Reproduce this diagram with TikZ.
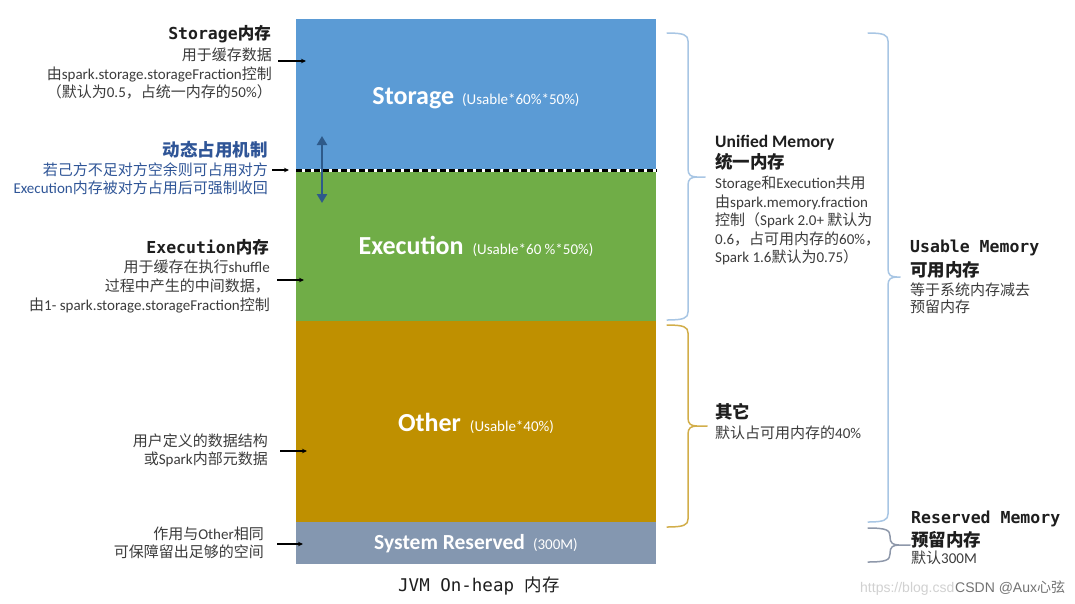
\documentclass[tikz,border=0pt]{standalone}
\usepackage{fontspec}
\setmainfont{Carlito}
\newfontfamily\cjk{Noto Sans CJK SC}
\newfontfamily\mono{DejaVu Sans Mono}
\newfontfamily\wmfont{Liberation Sans}
\usetikzlibrary{arrows.meta}
\newcommand\zh[1]{{\cjk #1}}
\definecolor{cStor}{HTML}{5B9BD5}
\definecolor{cExec}{HTML}{70AD47}
\definecolor{cOther}{HTML}{BF9000}
\definecolor{cSys}{HTML}{8497B0}
\definecolor{titlec}{HTML}{1E1E1E}
\definecolor{desc}{HTML}{3C3C3C}
\definecolor{blueT}{HTML}{2F5597}
\definecolor{dblue}{HTML}{2E5A8A}
\definecolor{braceBlue}{HTML}{A8C6E4}
\definecolor{braceGold}{HTML}{D2AE4A}
\definecolor{braceGray}{HTML}{8E98AA}
% color, x0, x1, xtip, ytop, ymid, ybot
\newcommand\membrace[7]{%
  \draw[#1, line width=1.5pt, line cap=round, line join=round]
    (#2,#5) .. controls (#3-4,#5) and (#3,#5+2) .. (#3,#5+8)
    -- (#3,#6-8) .. controls (#3,#6-2) and (#3+3,#6) .. (#3+9,#6)
    -- (#4,#6) -- (#3+9,#6)
    .. controls (#3+3,#6) and (#3,#6+2) .. (#3,#6+8)
    -- (#3,#7-8) .. controls (#3,#7-2) and (#3-4,#7) .. (#2,#7);}
\tikzset{
  region/.style={draw=none, minimum width=360pt, inner sep=0pt, anchor=north west},
  blab/.style={anchor=base, inner sep=0pt, text=white},
  lt/.style={inner sep=0pt, anchor=base east},
  rt/.style={inner sep=0pt, anchor=base west},
  dsc/.style={text=desc, font=\fontsize{15}{18}\selectfont},
  ttl/.style={text=titlec, font=\fontsize{16.5}{18}\selectfont\bfseries},
  ttlzh/.style={text=titlec, font=\fontsize{17.5}{18}\selectfont\bfseries},
  ptr/.style={black, line width=1.2pt, -{Stealth[length=5pt,width=4.5pt]}},
  dblarr/.style={dblue, line width=2.4pt, {Triangle[length=9pt,width=10pt]}-{Triangle[length=9pt,width=10pt]}},
}
\begin{document}
\begin{tikzpicture}[x=1pt,y=-1pt]
\useasboundingbox (0,0) rectangle (1075,603);
\fill[white] (0,0) rectangle (1075,603);

% memory regions
\node[region, fill=cStor, minimum height=151pt] (storage) at (296,19) {};
\node[region, fill=cExec, minimum height=151pt] (execution) at (296,170) {};
\node[region, fill=cOther, minimum height=201pt] (other) at (296,321) {};
\node[region, fill=cSys, minimum height=42pt] (sysres) at (296,522) {};

% dashed boundary
\draw[white, line width=2.2pt] (storage.south west) -- (storage.south east);
\draw[black, line width=2.2pt, dash pattern=on 6pt off 3pt] (storage.south west) -- (storage.south east);

% region labels
\node[blab] (stL) at (476,104.5) {{\bfseries\fontsize{26}{26}\selectfont Storage}\hspace{8pt}{\fontsize{15}{15}\selectfont(Usable*60\%*50\%)}};
\node[blab] (exL) at (476,254) {{\bfseries\fontsize{26}{26}\selectfont Execution}\hspace{9pt}{\fontsize{15}{15}\selectfont(Usable*60 \%*50\%)}};
\node[blab] (otL) at (476,431) {{\bfseries\fontsize{26}{26}\selectfont Other}\hspace{9pt}{\fontsize{15}{15}\selectfont(Usable*40\%)}};
\node[blab] (srL) at (476,549) {{\bfseries\fontsize{21.5}{22}\selectfont System Reserved}\hspace{8pt}{\fontsize{15}{15}\selectfont(300M)}};

% dynamic double arrow
\coordinate (dynTop) at (322,136);
\coordinate (dynBot) at (322,203);
\draw[dblarr] (dynTop) -- (dynBot);

% left texts
\node[ttl, lt] (stT) at (271,39) {{\mono Storage}\zh{内存}};
\node[dsc, lt] (st1) at (272,60.5) {\zh{用于缓存数据}};
\node[dsc, lt] (st2) at (272,79) {\zh{由}spark.storage.storageFraction\zh{控制}};
\node[dsc, lt] (st3) at (272,97.5) {\zh{（默认为}0.5\zh{，占统一内存的}50\%\zh{）}};

\node[ttlzh, lt, text=blueT] (dyT) at (268,156.5) {\zh{动态占用机制}};
\node[dsc, lt, text=blueT] (dy1) at (268,175.5) {\zh{若己方不足对方空余则可占用对方}};
\node[dsc, lt, text=blueT] (dy2) at (268,193.5) {Execution\zh{内存被对方占用后可强制收回}};

\node[ttl, lt] (exT) at (269,253) {{\mono Execution}\zh{内存}};
\node[dsc, lt] (ex1) at (270,272.5) {\zh{用于缓存在执行}shuffle};
\node[dsc, lt] (ex2) at (270,291.5) {\zh{过程中产生的中间数据，}};
\node[dsc, lt] (ex3) at (270,310) {\zh{由}1- spark.storage.storageFraction\zh{控制}};

\node[dsc, lt] (ot1) at (268,446.5) {\zh{用户定义的数据结构}};
\node[dsc, lt] (ot2) at (268,464.5) {\zh{或}Spark\zh{内部元数据}};

\node[dsc, lt] (sr1) at (264,539.5) {\zh{作用与}Other\zh{相同}};
\node[dsc, lt] (sr2) at (264,557.5) {\zh{可保障留出足够的空间}};

% left arrows
\coordinate (a1s) at (278,61);  \coordinate (a1e) at (306,61);
\coordinate (a2s) at (272,170); \coordinate (a2e) at (289,170);
\coordinate (a3s) at (277,280); \coordinate (a3e) at (304,280);
\coordinate (a4s) at (280,451); \coordinate (a4e) at (307,451);
\coordinate (a5s) at (277,544); \coordinate (a5e) at (303,544);
\draw[ptr] (a1s) -- (a1e);
\draw[ptr] (a2s) -- (a2e);
\draw[ptr] (a3s) -- (a3e);
\draw[ptr] (a4s) -- (a4e);
\draw[ptr] (a5s) -- (a5e);

% braces
\membrace{braceBlue}{667}{688}{705}{33}{177}{320}
\membrace{braceGold}{667}{688}{707}{325}{426}{527}
\membrace{braceBlue}{868}{888}{900}{33}{277}{522}
\membrace{braceGray}{868}{890}{910}{528}{545}{562}

% right texts
\node[rt, text=titlec, font=\fontsize{17.5}{18}\selectfont\bfseries] (unT) at (715,147.5) {Unified Memory};
\node[rt, ttlzh] (unZ) at (715,168.5) {\zh{统一内存}};
\node[rt, dsc] (un1) at (715,188.5) {Storage\zh{和}Execution\zh{共用}};
\node[rt, dsc] (un2) at (715,207.5) {\zh{由}spark.memory.fraction};
\node[rt, dsc] (un3) at (715,225.5) {\zh{控制（}Spark 2.0+ \zh{默认为}};
\node[rt, dsc] (un4) at (715,244) {0.6\zh{，占可用内存的}60\%\zh{，}};
\node[rt, dsc] (un5) at (715,262.5) {Spark 1.6\zh{默认为}0.75\zh{）}};

\node[rt, ttlzh] (otT) at (715,418.5) {\zh{其它}};
\node[rt, dsc] (otD) at (715,438.5) {\zh{默认占可用内存的}40\%};

\node[rt, ttl] (usT) at (910,252) {\mono Usable Memory};
\node[rt, ttlzh] (usZ) at (910,276.5) {\zh{可用内存}};
\node[rt, dsc] (us1) at (910,295.5) {\zh{等于系统内存减去}};
\node[rt, dsc] (us2) at (910,312.5) {\zh{预留内存}};

\node[rt, ttl] (rsT) at (911,523) {\mono Reserved Memory};
\node[rt, ttlzh] (rsZ) at (911,546.5) {\zh{预留内存}};
\node[rt, dsc] (rs1) at (911,563.5) {\zh{默认}300M};

% bottom caption
\node[rt, text=titlec, font=\fontsize{17.5}{18}\selectfont] (jvm) at (398,591) {{\mono JVM On-heap }\zh{内存}};

% watermark
\node[rt, text=black!18, font=\fontsize{14}{14}\selectfont\wmfont] (wm1) at (860,592) {https://blog.csd};
\node[rt, text=black!55, font=\fontsize{14}{14}\selectfont\wmfont] (wm2) at (955,592) {CSDN @Aux\zh{心弦}};
\end{tikzpicture}
\end{document}
